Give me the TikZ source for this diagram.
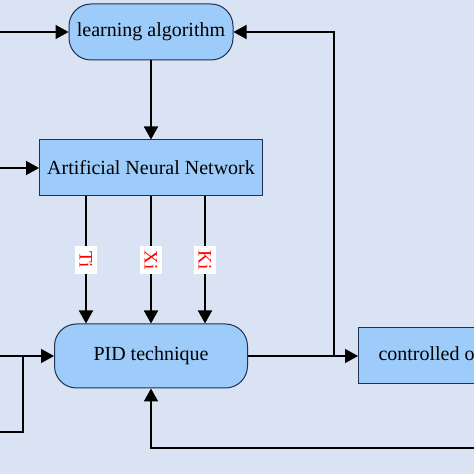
\documentclass[tikz,border=0pt]{standalone}
\usepackage{fontspec}
\setmainfont{Liberation Serif}
\usetikzlibrary{
  arrows.meta,
  calc,
  positioning,
}
\definecolor{paneblue}{HTML}{DAE3F3}
\definecolor{boxblue}{HTML}{9DCCFA}
\definecolor{boxedge}{HTML}{1F3050}
\tikzset{
  >={Triangle[length=13pt,width=14pt]},
}

\begin{document}
\begin{tikzpicture}[
      x=1pt, y=1pt,
      every node/.style={font=\fontsize{20}{24}\selectfont},
      block/.style={rectangle, draw=boxedge, fill=boxblue, line width=1pt, minimum height=56pt},
      pill/.style={block, rounded corners=22pt},
      gain/.style={fill=white, text=red, rotate=-90, inner sep=0pt, minimum width=28pt, minimum height=22pt, font=\fontsize{19}{19}\selectfont},
      link/.style={line width=1.6pt},
    ]
      \useasboundingbox (0,0) rectangle (474,474);
      \fill [paneblue] (0,0) rectangle (474,474);
      \clip (0,0) rectangle (474,474);
      \node [pill, minimum width=164pt] (learn) at (151,442) {learning algorithm};
      \node [block, minimum width=223pt, below=79pt of learn] (ann) {Artificial Neural Network};
      \node [pill, minimum width=193pt, minimum height=64pt, below=127pt of ann] (pid) {PID technique};
      \node [block, minimum width=175pt, anchor=west] (plant) at ($(pid.east)+(110,0)$) {controlled object};
      \coordinate (inlearn) at (0,442);
      \coordinate (inann) at (ann.west -| inlearn);
      \coordinate (inpid) at (pid.west -| inlearn);
      \coordinate (inlow) at (0,42);
      \coordinate (merge) at ($(inpid)+(23,0)$);
      \coordinate (tap) at ($(pid.east -| plant.west)+(-24,0)$);
      \coordinate (fb) at (474,26);
      \draw [link, ->] (inlearn) -- (learn.west);
      \draw [link, ->] (learn.south) -- (ann.north);
      \draw [link, ->] (inann) -- (ann.west);
      \foreach \dx/\lab in {-65/Ti, 0/Xi, 54/Ki}
        \draw [link, ->] ([xshift=\dx pt]ann.south) -- node [gain] {\lab} ([xshift=\dx pt]ann.south |- pid.north);
      \draw [link, ->] (inpid) -- (pid.west);
      \draw [link] (inlow) -| (merge);
      \draw [link, ->] (pid.east) -- (plant.west);
      \draw [link, ->] (tap) |- (learn.east);
      \draw [link, ->] (fb) -| (pid.south);
    \end{tikzpicture}
\end{document}
